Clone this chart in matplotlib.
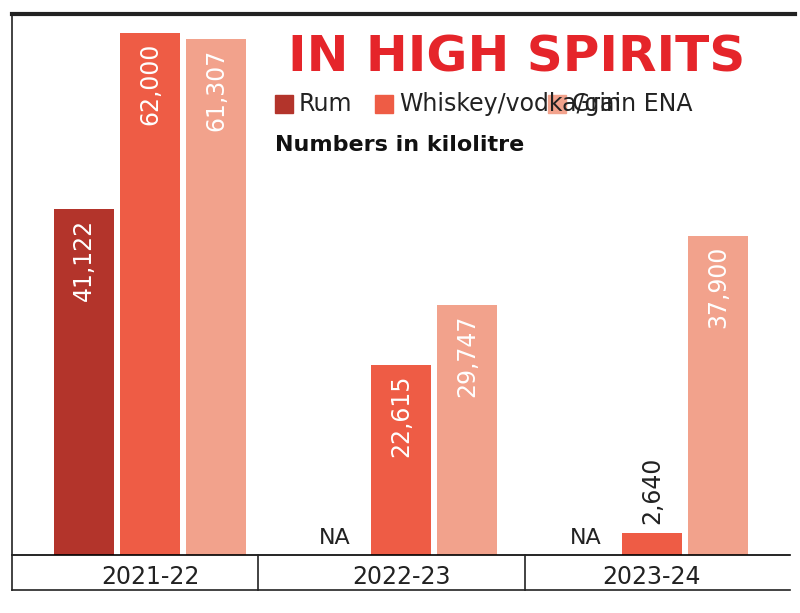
import matplotlib
matplotlib.use("Agg")
import matplotlib.pyplot as plt
from matplotlib.patches import Rectangle

years = ["2021-22", "2022-23", "2023-24"]
series = ["Rum", "Whiskey/vodka/gin", "Grain ENA"]
rum = [41122, None, None]
whiskey = [62000, 22615, 2640]
grain = [61307, 29747, 37900]
colors = ["#B3342B", "#EE5C45", "#F2A28C"]
NF = ["Liberation Sans Narrow", "DejaVu Sans"]

W, H = 800, 613
fig = plt.figure(figsize=(W/100, H/100), dpi=100)
def fx(x): return x / W
def fy(y): return 1 - y / H

ax = fig.add_axes([fx(12), fy(555), fx(790) - fx(12), fy(20) - fy(555)])
ax.set_xlim(12, 790)
ymax = 555 - 20
scale = 522 / 62000.0
ax.set_ylim(0, ymax / scale)
for s in ["top", "right", "left"]:
    ax.spines[s].set_visible(False)
ax.spines["bottom"].set_linewidth(1.2)
ax.set_xticks([]); ax.set_yticks([])

centers = [150, 401, 652]
pitch, bw = 66, 60
for gi, c in enumerate(centers):
    for si, vals in enumerate([rum, whiskey, grain]):
        v = vals[gi]
        x = c + (si - 1) * pitch
        if v is None:
            ax.text(x, 800, "NA", ha="center", va="bottom", fontsize=16, color="#222222", family=NF)
            continue
        ax.bar(x, v, width=bw, color=colors[si])
        label = f"{v:,}"
        if v < 8000:
            ax.text(x, v + 1000, label, rotation=90, ha="center", va="bottom", fontsize=17, color="#222222", family=NF)
        else:
            ax.text(x, v - 1200, label, rotation=90, ha="center", va="top", fontsize=17, color="white", family=NF)

fig.add_artist(plt.Line2D([fx(12), fx(795)], [fy(14), fy(14)], color="#222222", lw=3))
fig.add_artist(plt.Line2D([fx(12), fx(12)], [fy(14), fy(590)], color="#222222", lw=1.2))
fig.add_artist(plt.Line2D([fx(12), fx(790)], [fy(590), fy(590)], color="#222222", lw=1.2))
for xs in [258, 525]:
    fig.add_artist(plt.Line2D([fx(xs), fx(xs)], [fy(555), fy(590)], color="#222222", lw=1.2))
for c, y in zip(centers, years):
    fig.text(fx(c), fy(577), y, ha="center", va="center", fontsize=17, color="#222222", family=NF)

fig.text(fx(745), fy(57), "IN HIGH SPIRITS", ha="right", va="center", fontsize=36,
         fontweight="bold", color="#E5252A", family=NF)
lx = [275, 375, 548]
for x, name, col in zip(lx, series, colors):
    fig.add_artist(Rectangle((fx(x), fy(113)), fx(18), fy(95) - fy(113), color=col, transform=fig.transFigure))
    fig.text(fx(x + 24), fy(104), name, ha="left", va="center", fontsize=17, color="#222222", family=NF)
fig.text(fx(275), fy(145), "Numbers in kilolitre", ha="left", va="center", fontsize=16,
         fontweight="bold", color="#111111", family=NF)

fig.savefig("out.png", dpi=100)
